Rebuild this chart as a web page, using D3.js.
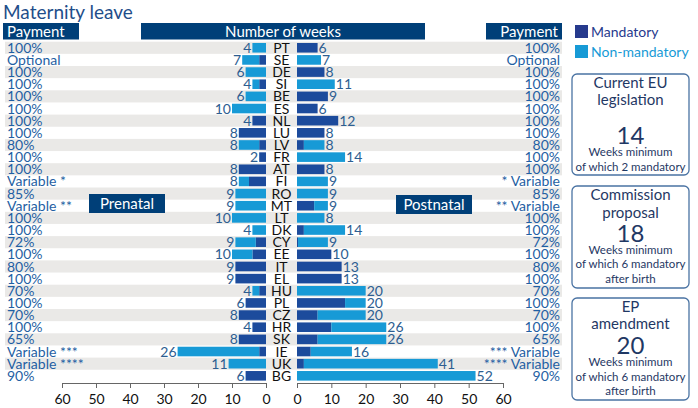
<!DOCTYPE html>
<html><head><meta charset="utf-8">
<script src="https://cdn.jsdelivr.net/npm/d3@7"></script>
<style>
html,body{margin:0;padding:0;background:#fff;}
svg{display:block;font-family:Lato,"Open Sans",sans-serif;}
</style></head>
<body>
<svg id="chart" width="698" height="408"></svg>
<script>
const countries = ["PT","SE","DE","SI","BE","ES","NL","LU","LV","FR","AT","FI","RO","MT","LT","DK","CY","EE","IT","EL","HU","PL","CZ","HR","SK","IE","UK","BG"];
const paymentLeft = ["100%","Optional","100%","100%","100%","100%","100%","100%","80%","100%","100%","Variable *","85%","Variable **","100%","100%","72%","100%","80%","100%","70%","100%","70%","100%","65%","Variable ***","Variable ****","90%"];
const paymentRight = ["100%","Optional","100%","100%","100%","100%","100%","100%","80%","100%","100%","* Variable","85%","** Variable","100%","100%","72%","100%","80%","100%","70%","100%","70%","100%","65%","*** Variable","**** Variable","90%"];
const preMandatory    = [0,2,0,2,0,0,4,8,2,2,8,5,0,0,0,0,3,4,9,9,2,6,8,4,8,2,0,6];
const preNonMandatory = [4,5,6,2,6,10,0,0,6,0,0,3,9,9,10,4,6,6,0,0,2,0,0,0,0,24,11,0];
const postMandatory    = [6,0,8,0,9,6,12,8,2,0,8,0,0,5,0,2,0.3,10,13,13,0,14,6,10,6,4,2,0];
const postNonMandatory = [0,7,0,11,0,0,0,0,6,14,0,9,9,4,8,12,8.7,0,0,0,20,6,14,16,20,12,39,52];
const axisTicks = [0,10,20,30,40,50,60];
const legendItems = ["Mandatory","Non-mandatory"];
const boxes = [
  {title:["Current EU","legislation"], value:"14", note:["Weeks minimum","of which 2 mandatory"]},
  {title:["Commission","proposal"], value:"18", note:["Weeks minimum","of which 6 mandatory","after birth"]},
  {title:["EP","amendment"], value:"20", note:["Weeks minimum","of which 6 mandatory","after birth"]}
];

const C = {dark:"#1c4b9c", light:"#179ad6", header:"#003f78", stripe:"#eae9e7", val:"#2d5e91", pay:"#1f5fa3", navy:"#1f3864", legendDark:"#263a8d"};
const svg = d3.select("#chart");

const xL = d3.scaleLinear().domain([0,60]).range([266,62]);
const xR = d3.scaleLinear().domain([0,60]).range([297,503]);
const y = d3.scaleBand().domain(countries).range([41.7,381.9]).paddingInner(0);
const bh = 9.6;

// title
svg.append("text").attr("x",3).attr("y",19).attr("font-size",19).attr("fill","#1f4e8a").text("Maternity leave");

// headers
function header(x0,x1,yy,h,label,anchor,tx,fs){
  svg.append("rect").attr("x",x0).attr("y",yy).attr("width",x1-x0).attr("height",h).attr("fill",C.header);
  svg.append("text").attr("x",tx).attr("y",yy+h/2).attr("dy","0.35em").attr("text-anchor",anchor)
    .attr("font-size",fs).attr("fill","#fff").text(label);
}
header(3,79,23,16.5,"Payment","start",7,15);
header(141,425,23,16.5,"Number of weeks","middle",283,15);
header(486,562,23,16.5,"Payment","end",558,15);

// stripes
countries.forEach((c,i)=>{
  if(i%2===0) svg.append("rect").attr("x",5).attr("y",y(c)).attr("width",557).attr("height",y.bandwidth()).attr("fill",C.stripe);
});

const rows = countries.map((c,i)=>({c,i,pm:preMandatory[i],pn:preNonMandatory[i],qm:postMandatory[i],qn:postNonMandatory[i]}));
const g = svg.append("g");
// prenatal
g.selectAll(".pm").data(rows).join("rect").attr("fill",C.dark)
  .attr("x",d=>xL(d.pm)).attr("width",d=>xL(0)-xL(d.pm)).attr("y",d=>y(d.c)+(y.bandwidth()-bh)/2).attr("height",bh);
g.selectAll(".pn").data(rows).join("rect").attr("fill",C.light)
  .attr("x",d=>xL(d.pm+d.pn)).attr("width",d=>xL(d.pm)-xL(d.pm+d.pn)).attr("y",d=>y(d.c)+(y.bandwidth()-bh)/2).attr("height",bh);
// postnatal
g.selectAll(".qm").data(rows).join("rect").attr("fill",C.dark)
  .attr("x",xR(0)).attr("width",d=>xR(d.qm)-xR(0)).attr("y",d=>y(d.c)+(y.bandwidth()-bh)/2).attr("height",bh);
g.selectAll(".qn").data(rows).join("rect").attr("fill",C.light)
  .attr("x",d=>xR(d.qm)).attr("width",d=>xR(d.qm+d.qn)-xR(d.qm)).attr("y",d=>y(d.c)+(y.bandwidth()-bh)/2).attr("height",bh);

const fsRow = 14;
const ty = d=>y(d.c)+y.bandwidth()/2;
g.selectAll(".lv").data(rows).join("text").attr("x",d=>xL(d.pm+d.pn)-1).attr("y",ty).attr("dy","0.36em")
  .attr("text-anchor","end").attr("font-size",fsRow).attr("fill",C.val).text(d=>Math.round(d.pm+d.pn));
g.selectAll(".rv").data(rows).join("text").attr("x",d=>xR(d.qm+d.qn)+1).attr("y",ty).attr("dy","0.36em")
  .attr("text-anchor","start").attr("font-size",fsRow).attr("fill",C.val).text(d=>Math.round(d.qm+d.qn));
g.selectAll(".cc").data(rows).join("text").attr("x",281.5).attr("y",ty).attr("dy","0.36em")
  .attr("text-anchor","middle").attr("font-size",fsRow).attr("fill","#111").text(d=>d.c);
g.selectAll(".pl").data(rows).join("text").attr("x",7).attr("y",ty).attr("dy","0.36em")
  .attr("font-size",fsRow).attr("fill",C.pay).text(d=>paymentLeft[d.i]);
g.selectAll(".pr").data(rows).join("text").attr("x",560).attr("y",ty).attr("dy","0.36em")
  .attr("text-anchor","end").attr("font-size",fsRow).attr("fill",C.pay).text(d=>paymentRight[d.i]);

// Prenatal / Postnatal labels
header(89,165,194,19,"Prenatal","middle",127,15);
header(396,472,195,19,"Postnatal","middle",434,15);

// axes
function drawAxis(scale){
  const a = svg.append("g").attr("transform","translate(0,383)")
    .call(d3.axisBottom(scale).tickValues(axisTicks).tickSize(5).tickSizeOuter(0).tickFormat(d3.format("d")));
  a.select(".domain").attr("stroke","#666");
  a.selectAll(".tick line").attr("stroke","#666");
  a.selectAll(".tick text").attr("font-size",14).attr("fill","#111").attr("font-family","Lato,sans-serif").attr("dy","0.9em");
}
drawAxis(xL); drawAxis(xR);

// legend
const lg = svg.append("g");
legendItems.forEach((t,i)=>{
  lg.append("rect").attr("x",575).attr("y",25+i*20).attr("width",13).attr("height",13).attr("fill",i===0?C.legendDark:C.light);
  lg.append("text").attr("x",591).attr("y",31.5+i*20).attr("dy","0.36em").attr("font-size",14)
    .attr("fill",i===0?C.legendDark:C.light).text(t);
});

// boxes
const boxGeom = [
  {y0:74,y1:175, tY:[83,100], vY:135, nY:[152,167]},
  {y0:186,y1:288, tY:[195,213], vY:233, nY:[250,264,279]},
  {y0:298,y1:400, tY:[307,324], vY:345, nY:[362,377,391]}
];
boxes.forEach((b,i)=>{
  const G = boxGeom[i];
  svg.append("rect").attr("x",572).attr("y",G.y0).attr("width",117).attr("height",G.y1-G.y0)
    .attr("rx",5).attr("fill","#fff").attr("stroke","#4a73a3").attr("stroke-width",1.3);
  b.title.forEach((t,k)=>svg.append("text").attr("x",630.5).attr("y",G.tY[k]).attr("dy","0.36em").attr("text-anchor","middle")
    .attr("font-size",15).attr("fill",C.navy).text(t));
  svg.append("text").attr("x",630.5).attr("y",G.vY).attr("dy","0.36em").attr("text-anchor","middle")
    .attr("font-size",24).attr("fill",C.navy).text(b.value);
  b.note.forEach((t,k)=>svg.append("text").attr("x",630.5).attr("y",G.nY[k]).attr("dy","0.36em").attr("text-anchor","middle")
    .attr("font-size",11.5).attr("fill",C.navy).text(t));
});
</script>
</body></html>
